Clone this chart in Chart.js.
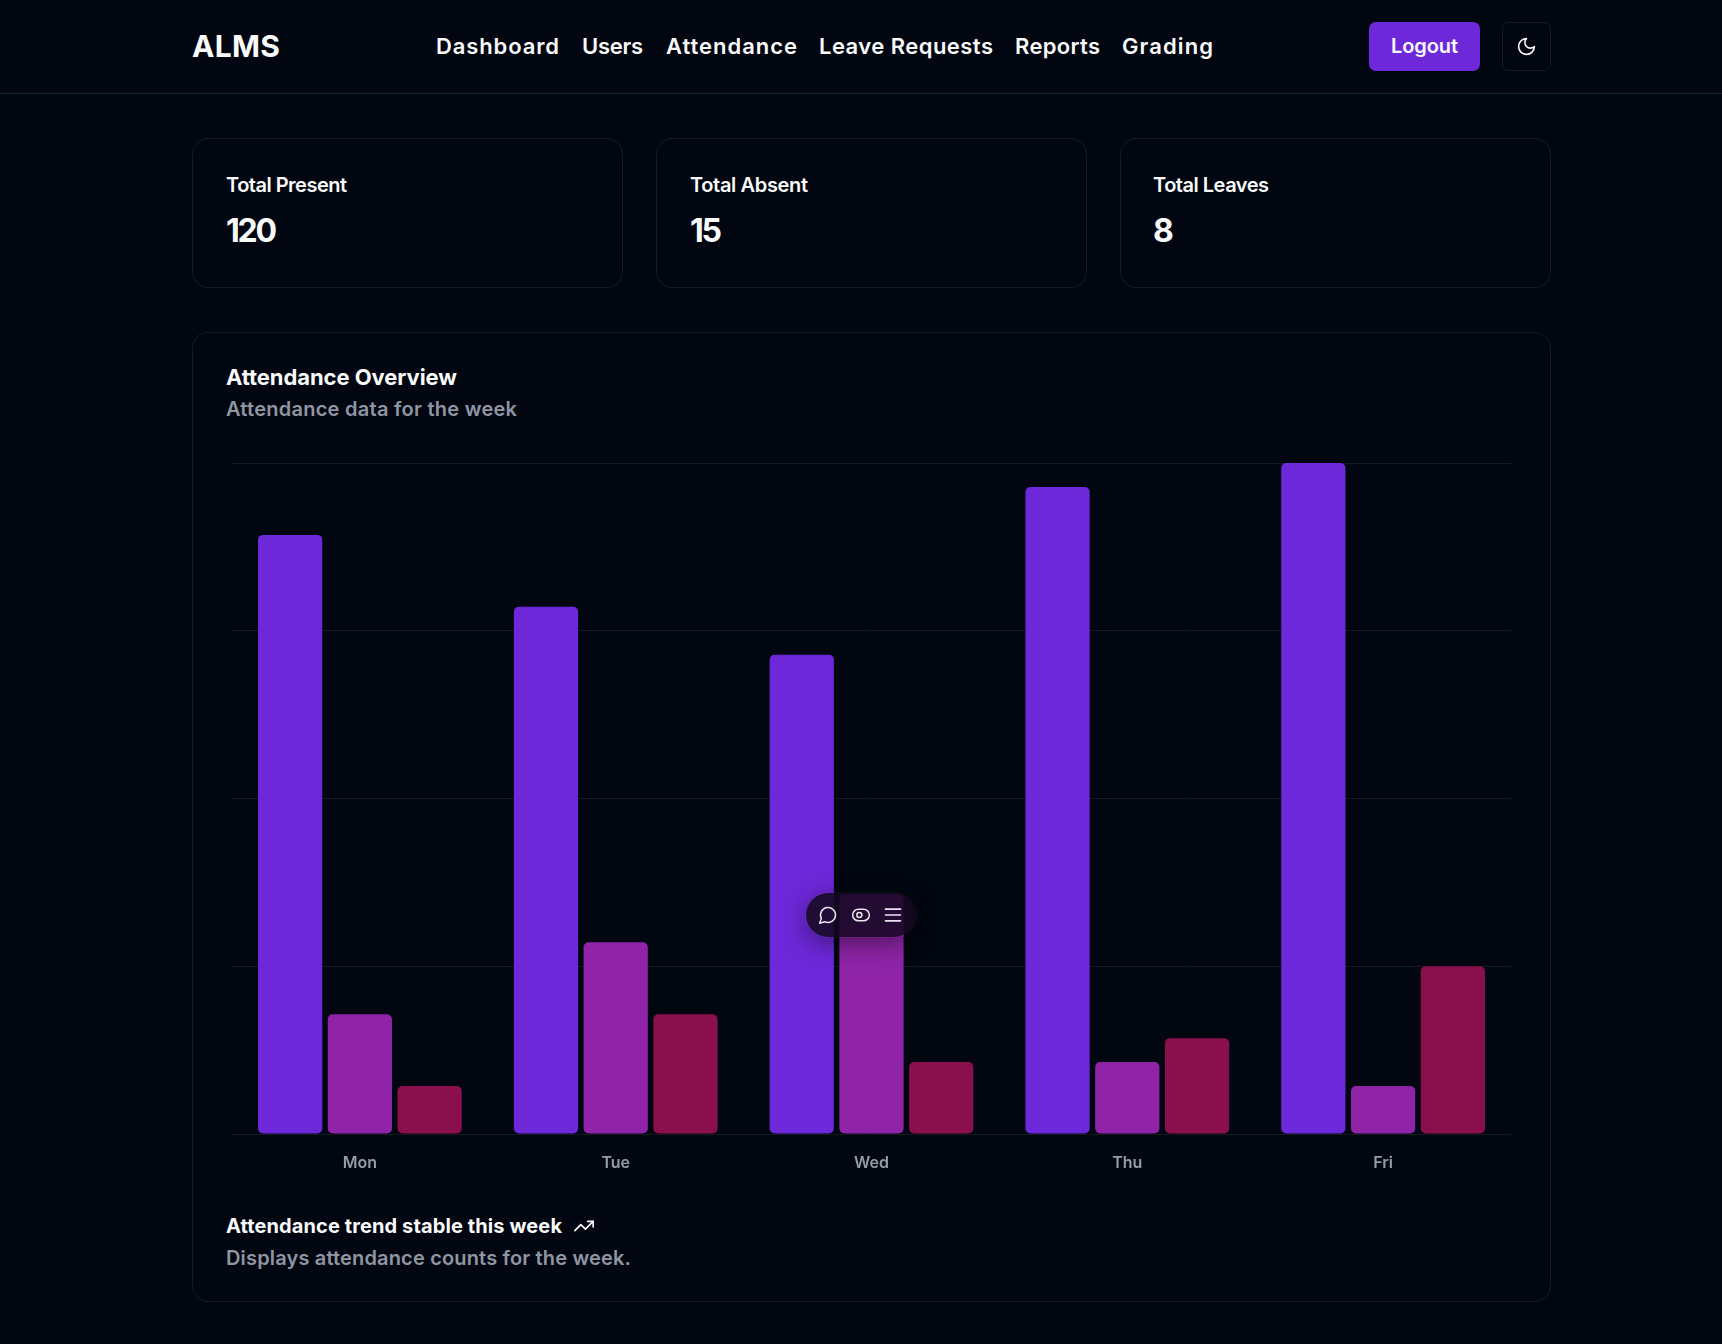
<!DOCTYPE html>
<html>
<head>
<meta charset="utf-8">
<title>ALMS</title>
<script src="https://cdn.jsdelivr.net/npm/chart.js@4"></script>
<style>
  html, body { margin: 0; padding: 0; background: #020610; }
  body { width: 1722px; height: 1344px; position: relative; overflow: hidden; font-family: Inter, sans-serif; color: #f9fafb; }
  .t { position: absolute; white-space: nowrap; transform: translateY(-50%); line-height: 1.2; }
  .box { position: absolute; box-sizing: border-box; border: 1px solid #151a25; border-radius: 16px; }
  .muted { color: #8f96a3; }
  #navline { position: absolute; left: 0; top: 93px; width: 1722px; height: 1px; background: #1a1f2a; }
  #logout { position: absolute; left: 1369px; top: 22px; width: 111px; height: 49px; border-radius: 7px; background: #6d28d9; }
  #theme { position: absolute; left: 1502px; top: 22px; width: 49px; height: 49px; box-sizing: border-box; border: 1px solid #151a25; border-radius: 7px; }
  #theme svg { position: absolute; left: 13px; top: 13px; }
  #chartbox { position: absolute; left: 232px; top: 453px; width: 1279px; height: 727px; }
  #pill { position: absolute; left: 806px; top: 893px; width: 110px; height: 44px; border-radius: 22px; background: rgba(20, 8, 32, .88); box-shadow: 0 0 0 1px rgba(255,255,255,.04), 0 6px 26px rgba(0,0,0,.45); }
  #pill svg { position: absolute; top: 12px; }
</style>
</head>
<body>

<div class="t" data-w="88" style="left:192px;top:46px;font-size:30px;font-weight:700">ALMS</div>
<div class="t" data-w="123" style="left:436px;top:46px;font-size:22px;font-weight:600">Dashboard</div>
<div class="t" data-w="61" style="left:582px;top:46px;font-size:22px;font-weight:600">Users</div>
<div class="t" data-w="131" style="left:666px;top:46px;font-size:22px;font-weight:600">Attendance</div>
<div class="t" data-w="174" style="left:819px;top:46px;font-size:22px;font-weight:600">Leave Requests</div>
<div class="t" data-w="85" style="left:1015px;top:46px;font-size:22px;font-weight:600">Reports</div>
<div class="t" data-w="91" style="left:1122px;top:46px;font-size:22px;font-weight:600">Grading</div>
<div id="navline"></div>

<div id="logout"></div>
<div class="t" data-w="67" style="left:1391px;top:46px;font-size:20px;font-weight:600">Logout</div>
<div id="theme">
  <svg width="21" height="21" viewBox="0 0 24 24" fill="none" stroke="#f9fafb" stroke-width="1.8" stroke-linecap="round" stroke-linejoin="round"><path d="M12 3a6 6 0 0 0 9 9 9 9 0 1 1-9-9Z"/></svg>
</div>

<div class="box" style="left:192px;top:138px;width:431px;height:150px"></div>
<div class="box" style="left:656px;top:138px;width:431px;height:150px"></div>
<div class="box" style="left:1120px;top:138px;width:431px;height:150px"></div>
<div class="t" data-w="121" style="left:226px;top:185px;font-size:20px;font-weight:600">Total Present</div>
<div class="t" data-w="51" style="left:226px;top:231px;font-size:32px;font-weight:700">120</div>
<div class="t" data-w="118" style="left:690px;top:185px;font-size:20px;font-weight:600">Total Absent</div>
<div class="t" data-w="32" style="left:690px;top:231px;font-size:32px;font-weight:700">15</div>
<div class="t" data-w="116" style="left:1153px;top:185px;font-size:20px;font-weight:600">Total Leaves</div>
<div class="t" data-w="20" style="left:1153px;top:231px;font-size:32px;font-weight:700">8</div>

<div class="box" style="left:192px;top:332px;width:1359px;height:970px"></div>
<div class="t" data-w="231" style="left:226px;top:377px;font-size:22px;font-weight:700">Attendance Overview</div>
<div class="t muted" data-w="291" style="left:226px;top:409px;font-size:20px;font-weight:600">Attendance data for the week</div>

<div id="chartbox"><canvas id="attendanceChart"></canvas></div>

<div id="pill">
  <svg style="left:12px" width="20" height="20" viewBox="0 0 24 24" fill="none" stroke="#e9e6ee" stroke-width="1.8" stroke-linecap="round" stroke-linejoin="round"><path d="M7.9 20A9 9 0 1 0 4 16.1L2 22Z"/></svg>
  <svg style="left:45px" width="20" height="20" viewBox="0 0 24 24" fill="none" stroke="#e9e6ee" stroke-width="1.8" stroke-linecap="round" stroke-linejoin="round"><rect x="2" y="5" width="20" height="14" rx="7"/><circle cx="10" cy="12" r="3"/></svg>
  <svg style="left:77px" width="20" height="20" viewBox="0 0 24 24" fill="none" stroke="#e9e6ee" stroke-width="2" stroke-linecap="round" stroke-linejoin="round"><path d="M3 5h18M3 12h18M3 19h18"/></svg>
</div>

<div class="t" data-w="336" style="left:226px;top:1226px;font-size:20px;font-weight:700">Attendance trend stable this week</div>
<svg style="position:absolute;left:573px;top:1215px" width="22" height="22" viewBox="0 0 24 24" fill="none" stroke="#f9fafb" stroke-width="1.8" stroke-linecap="round" stroke-linejoin="round"><path d="M22 7l-8.5 8.5-5-5L2 17"/><path d="M16 7h6v6"/></svg>
<div class="t muted" data-w="405" style="left:226px;top:1258px;font-size:20px;font-weight:600">Displays attendance counts for the week.</div>

<script>
const days = ["Mon", "Tue", "Wed", "Thu", "Fri"];
const present = [25, 22, 20, 27, 28];
const absent = [5, 8, 10, 3, 2];
const leaves = [2, 5, 3, 4, 7];
const yMax = 28;
const yStep = 7;

// the font here is not the one in the picture so squeeze each text to its width
document.querySelectorAll("[data-w]").forEach(function (el) {
    const gap = (Number(el.dataset.w) - el.getBoundingClientRect().width) / (el.textContent.length - 1);
    el.style.letterSpacing = gap + "px";
});

const ctx = document.getElementById("attendanceChart");

new Chart(ctx, {
    type: "bar",
    data: {
        labels: days,
        datasets: [
            { label: "Present", data: present, backgroundColor: "#6d28d9" },
            { label: "Absent", data: absent, backgroundColor: "#8f24a8" },
            { label: "Leaves", data: leaves, backgroundColor: "#8a0f4d" }
        ]
    },
    options: {
        responsive: true,
        maintainAspectRatio: false,
        animation: false,
        layout: { padding: { top: 10 } },
        datasets: {
            bar: { categoryPercentage: 0.818, barPercentage: 0.921, borderRadius: 5, borderSkipped: false }
        },
        scales: {
            x: {
                grid: { display: false },
                border: { display: false },
                ticks: { color: "#959ca9", padding: 12, maxRotation: 0, font: { family: "Inter", size: 16, weight: 600 } },
                afterFit: function (scale) { scale.height = 46; }
            },
            y: {
                min: 0,
                max: yMax,
                grid: { color: "#131824", lineWidth: 1, drawTicks: false },
                border: { display: false },
                ticks: { display: false, stepSize: yStep },
                afterFit: function (scale) { scale.width = 0; }
            }
        },
        plugins: {
            legend: { display: false },
            tooltip: { enabled: false }
        }
    }
});
</script>
</body>
</html>
